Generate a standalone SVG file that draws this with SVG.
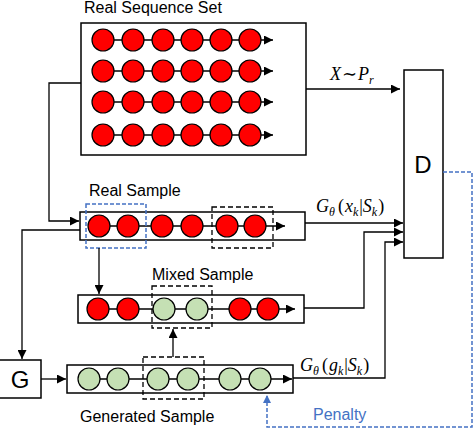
<svg xmlns="http://www.w3.org/2000/svg" width="474" height="429" viewBox="0 0 474 429">
<style>
.box{fill:#fff;stroke:#000;stroke-width:1.5}
.r{fill:#f00;stroke:#000;stroke-width:1.2}
.g{fill:#c5e0b4;stroke:#000;stroke-width:1.2}
.ln{fill:none;stroke:#000;stroke-width:1.3}
.dash{fill:none;stroke:#000;stroke-width:1.3;stroke-dasharray:5,3}
.bdash{fill:none;stroke:#4472c4;stroke-width:1.5;stroke-dasharray:4,2}
.t{font-family:"Liberation Sans",Arial,sans-serif;font-size:16px;fill:#000}
.m{font-family:"Liberation Serif","DejaVu Serif",serif;font-style:italic;font-size:18px;fill:#000}
.s{font-size:12px}
.n{font-style:normal}
.big{font-family:"Liberation Sans",Arial,sans-serif;font-size:24px;fill:#000}
</style>
<defs>
<marker id="a" viewBox="0 0 10 10" refX="10" refY="5" markerWidth="9" markerHeight="9" markerUnits="userSpaceOnUse" orient="auto"><path d="M0,0 L10,5 L0,10 Z" fill="#000"/></marker>
<marker id="ab" viewBox="0 0 10 10" refX="10" refY="5" markerWidth="8" markerHeight="8" markerUnits="userSpaceOnUse" orient="auto"><path d="M0,0 L10,5 L0,10 Z" fill="#4472c4"/></marker>
</defs>

<g id="real-sequence-set">
<rect class="box" x="81" y="23" width="225" height="132"/>
<text class="t" x="84" y="13">Real Sequence Set</text>
<g id="row1">
<line class="ln" x1="103" y1="40" x2="273" y2="40" marker-end="url(#a)"/>
<circle class="r" cx="103" cy="40" r="11"/><circle class="r" cx="133" cy="40" r="11"/><circle class="r" cx="163" cy="40" r="11"/><circle class="r" cx="192" cy="40" r="11"/><circle class="r" cx="221" cy="40" r="11"/><circle class="r" cx="250" cy="40" r="11"/>
</g>
<g id="row2">
<line class="ln" x1="103" y1="71" x2="273" y2="71" marker-end="url(#a)"/>
<circle class="r" cx="103" cy="71" r="11"/><circle class="r" cx="133" cy="71" r="11"/><circle class="r" cx="163" cy="71" r="11"/><circle class="r" cx="192" cy="71" r="11"/><circle class="r" cx="221" cy="71" r="11"/><circle class="r" cx="250" cy="71" r="11"/>
</g>
<g id="row3">
<line class="ln" x1="103" y1="102" x2="273" y2="102" marker-end="url(#a)"/>
<circle class="r" cx="103" cy="102" r="11"/><circle class="r" cx="133" cy="102" r="11"/><circle class="r" cx="163" cy="102" r="11"/><circle class="r" cx="192" cy="102" r="11"/><circle class="r" cx="221" cy="102" r="11"/><circle class="r" cx="250" cy="102" r="11"/>
</g>
<g id="row4">
<line class="ln" x1="103" y1="135" x2="273" y2="135" marker-end="url(#a)"/>
<circle class="r" cx="103" cy="135" r="11"/><circle class="r" cx="133" cy="135" r="11"/><circle class="r" cx="163" cy="135" r="11"/><circle class="r" cx="192" cy="135" r="11"/><circle class="r" cx="221" cy="135" r="11"/><circle class="r" cx="250" cy="135" r="11"/>
</g>
</g>

<g id="real-sample">
<rect class="box" x="80" y="212" width="225" height="28"/>
<text class="t" x="89" y="196">Real Sample</text>
<line class="ln" x1="99" y1="226" x2="285" y2="226" marker-end="url(#a)"/>
<circle class="r" cx="99" cy="226" r="11"/><circle class="r" cx="128" cy="226" r="11"/><circle class="r" cx="162" cy="226" r="11"/><circle class="r" cx="192" cy="226" r="11"/><circle class="r" cx="227" cy="226" r="11"/><circle class="r" cx="255" cy="226" r="11"/>
<rect class="bdash" x="86" y="204" width="60" height="44"/>
<rect class="dash" x="212" y="207" width="61" height="41"/>
</g>

<g id="mixed-sample">
<rect class="box" x="78" y="295" width="226" height="28"/>
<text class="t" x="152" y="280">Mixed Sample</text>
<line class="ln" x1="98" y1="309" x2="295" y2="309" marker-end="url(#a)"/>
<circle class="r" cx="98" cy="309" r="11"/><circle class="r" cx="128" cy="309" r="11"/><circle class="g" cx="164" cy="309" r="11"/><circle class="g" cx="197" cy="309" r="11"/><circle class="r" cx="240" cy="309" r="11"/><circle class="r" cx="268" cy="309" r="11"/>
<rect class="dash" x="152" y="286" width="60" height="42"/>
</g>

<g id="generated-sample">
<rect class="box" x="67" y="365" width="226" height="28"/>
<text class="t" x="80" y="422">Generated Sample</text>
<line class="ln" x1="89" y1="379" x2="292" y2="379" marker-end="url(#a)"/>
<circle class="g" cx="89" cy="379" r="11"/><circle class="g" cx="118" cy="379" r="11"/><circle class="g" cx="158" cy="379" r="11"/><circle class="g" cx="188" cy="379" r="11"/><circle class="g" cx="230" cy="379" r="11"/><circle class="g" cx="260" cy="379" r="11"/>
<rect class="dash" x="143" y="357" width="61" height="42"/>
</g>

<g id="G">
<rect class="box" x="-1" y="360" width="42" height="38"/>
<text class="big" x="20" y="388" text-anchor="middle">G</text>
</g>

<g id="D">
<rect class="box" x="404" y="70" width="39" height="188"/>
<text class="big" x="423" y="173" text-anchor="middle">D</text>
</g>

<g id="connectors">
<path class="ln" d="M81,83 H49 V221 H79" marker-end="url(#a)"/>
<path class="ln" d="M80,230 H22 V359" marker-end="url(#a)"/>
<path class="ln" d="M41,379 H66" marker-end="url(#a)"/>
<path class="ln" d="M99,248 V294" marker-end="url(#a)"/>
<path class="ln" d="M173,357 V329" marker-end="url(#a)"/>
<path class="ln" d="M306,89 H400" marker-end="url(#a)"/>
<path class="ln" d="M305,223 H403" marker-end="url(#a)"/>
<path class="ln" d="M304,308 H364 V232 H403" marker-end="url(#a)"/>
<path class="ln" d="M293,378 H385 V242 H403" marker-end="url(#a)"/>
<path class="bdash" d="M443,172 H472 V427 H267 V395" marker-end="url(#ab)"/>
</g>

<g id="labels">
<text class="m" x="330" y="80">X<tspan class="n" dx="1">∼</tspan><tspan dx="1">P</tspan><tspan class="s" dy="4">r</tspan></text>
<text class="m" x="316" y="212">G<tspan class="s" dy="4">θ</tspan><tspan class="n" dy="-4" dx="3">(</tspan><tspan dx="1">x</tspan><tspan class="s" dy="4">k</tspan><tspan class="n" dy="-4" dx="1">|</tspan>S<tspan class="s" dy="4">k</tspan><tspan class="n" dy="-4" dx="1">)</tspan></text>
<text class="m" x="300" y="371">G<tspan class="s" dy="4">θ</tspan><tspan class="n" dy="-4" dx="3">(</tspan><tspan dx="1">g</tspan><tspan class="s" dy="4">k</tspan><tspan class="n" dy="-4" dx="1">|</tspan>S<tspan class="s" dy="4">k</tspan><tspan class="n" dy="-4" dx="1">)</tspan></text>
<text class="t" x="313" y="420" style="fill:#4472c4">Penalty</text>
</g>
</svg>
